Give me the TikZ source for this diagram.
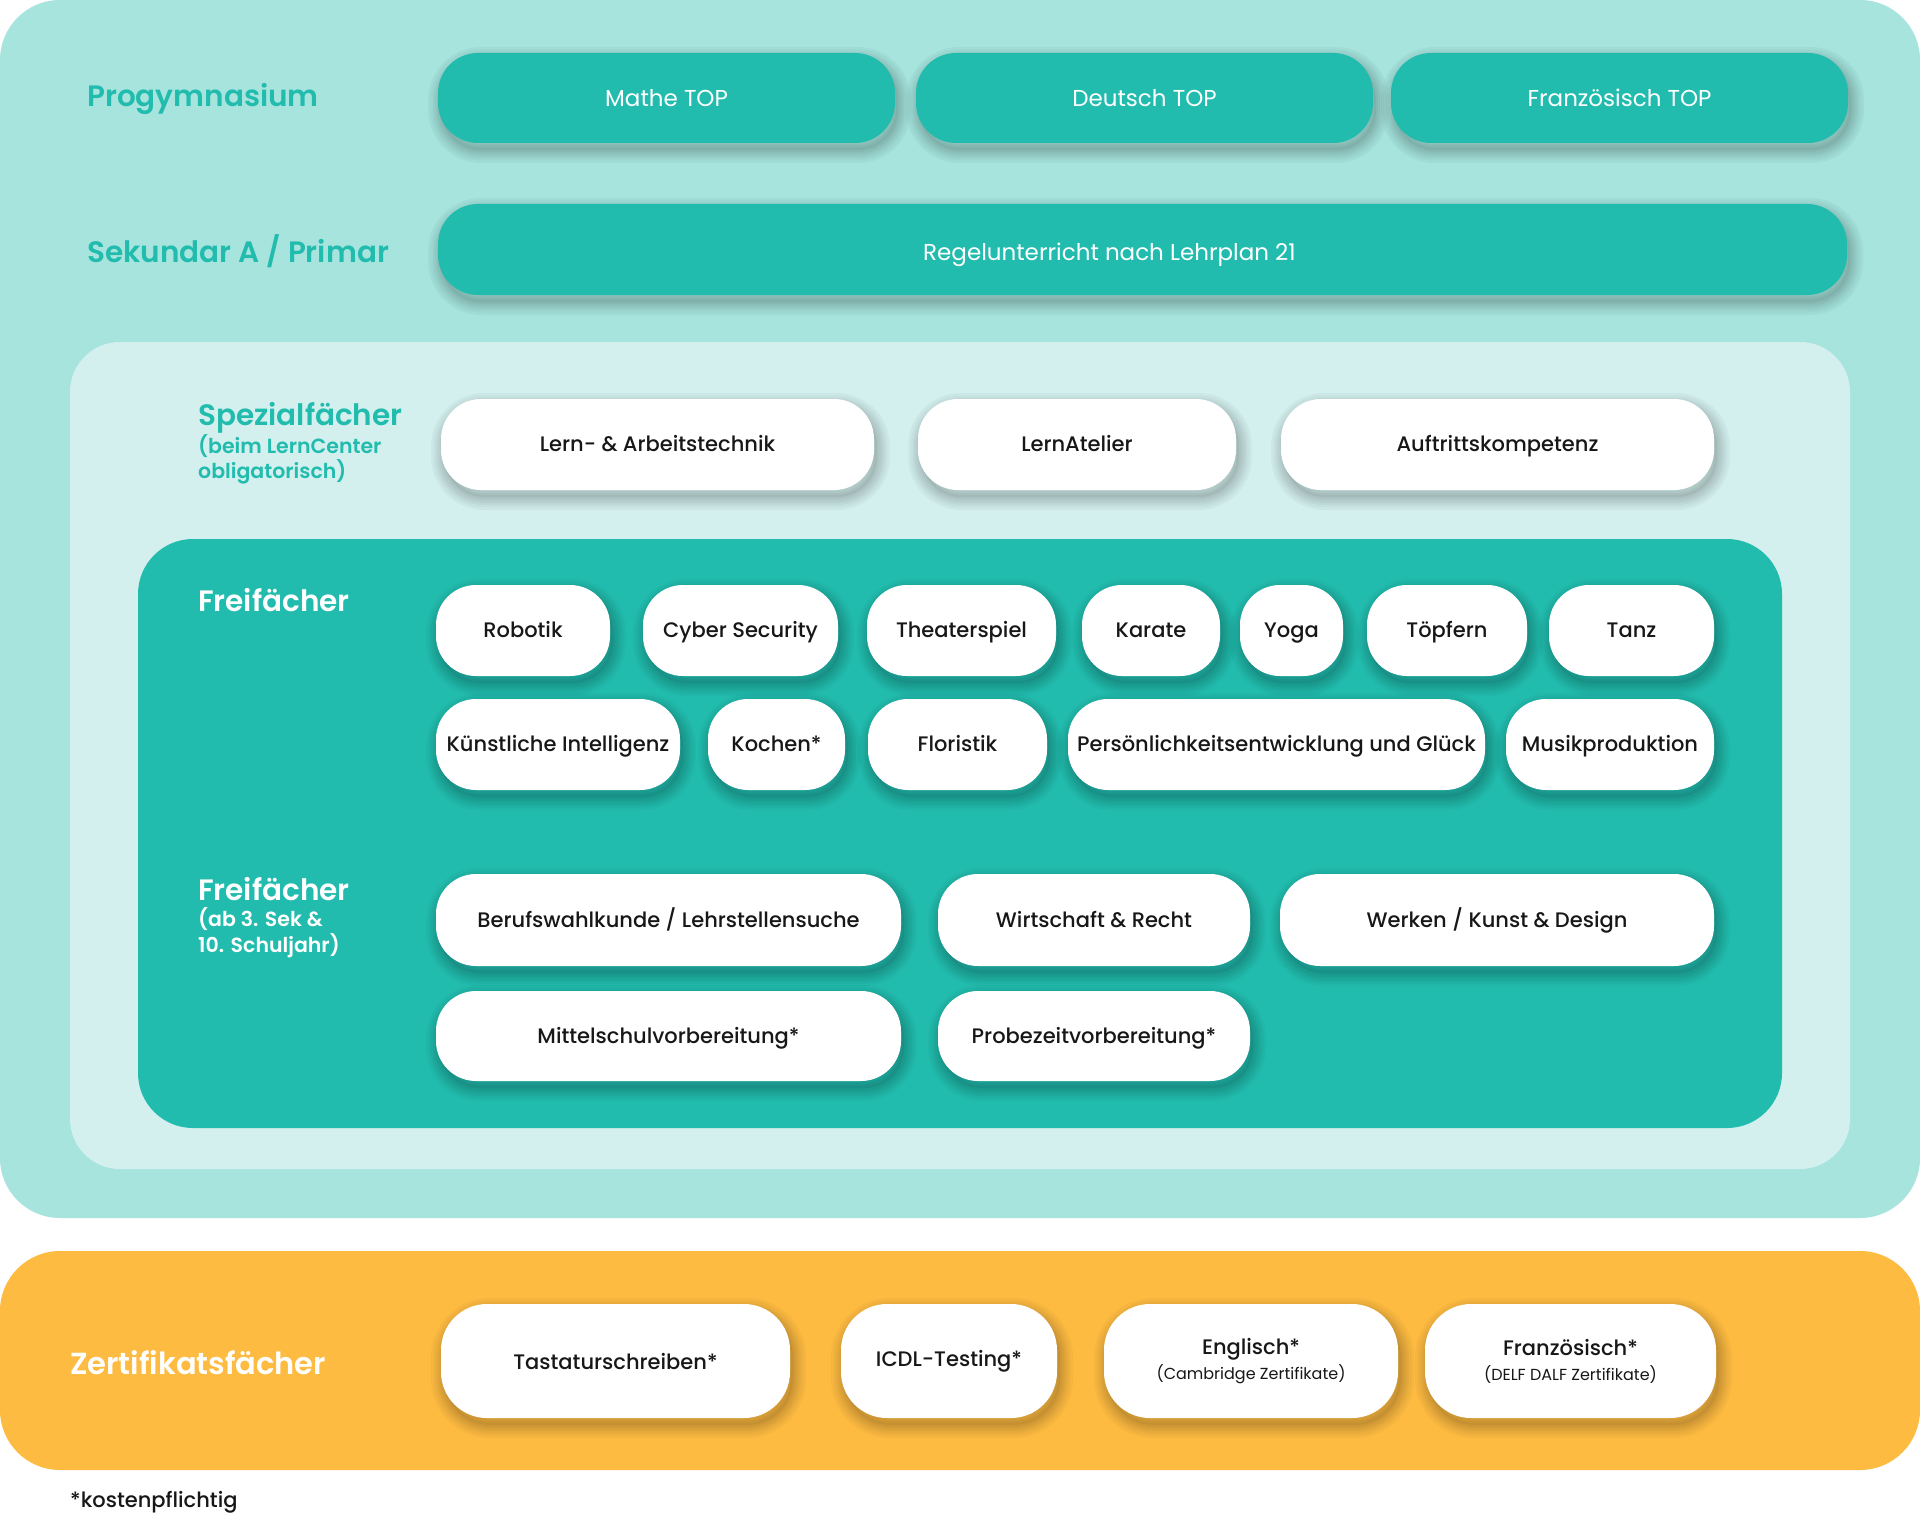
\documentclass[tikz,border=0pt]{standalone}
\usepackage{fontspec}
\setmainfont{Poppins}[UprightFont={* Medium}, BoldFont={* SemiBold}]
\newfontfamily\regfont{Poppins}
\definecolor{outerbg}{HTML}{A6E4DD}
\definecolor{innerbg}{HTML}{D3F0EE}
\definecolor{tealc}{HTML}{22BCAE}
\definecolor{orangec}{HTML}{FEBB42}
\definecolor{ink}{HTML}{171717}
\tikzset{
  shlayer/.style={preaction={draw=black, draw opacity=0.03, line width=#1, line join=round,
     transform canvas={shift={(3pt,-7pt)}}}},
  softshadow/.style={
    preaction={fill=black, fill opacity=0.05, transform canvas={shift={(3pt,-7pt)}}},
    shlayer=26pt, shlayer=21pt, shlayer=16pt, shlayer=12pt, shlayer=8pt, shlayer=4pt},
  pill/.style={rectangle, rounded corners=40pt, minimum height=91pt, inner sep=0pt,
    font=\fontsize{21}{25}\selectfont, text height=14.7pt, text depth=0pt, softshadow},
  tpill/.style={pill, fill=tealc, text=white, font=\regfont\fontsize{23}{27}\selectfont, text height=16.1pt},
  wpill/.style={pill, fill=white, text=ink},
  cpill/.style={wpill, rounded corners=46pt, minimum height=114pt, align=center, text height=, text depth=},
  lab/.style={anchor=base west, inner sep=0pt, font=\bfseries\fontsize{29.5}{34}\selectfont},
  sublab/.style={anchor=base west, inner sep=0pt, font=\bfseries\fontsize{20.5}{23}\selectfont},
}
\begin{document}
\begin{tikzpicture}[x=1pt,y=-1pt]
\useasboundingbox (0,0) rectangle (1920,1533);
\fill[white] (0,0) rectangle (1920,1533);
% containers
\fill[outerbg, rounded corners=60pt] (0,0) rectangle (1920,1218);
\fill[innerbg, rounded corners=50pt] (70,342) rectangle (1850,1169);
\fill[tealc, rounded corners=55pt] (138,539) rectangle (1782,1128);
\fill[orangec, rounded corners=60pt] (0,1251) rectangle (1920,1470);

% labels
\node[lab, text=tealc] (lprog) at (87,107) {Progymnasium};
\node[lab, text=tealc] (lsek) at (87,262) {Sekundar A / Primar};
\node[lab, text=tealc] (lspez) at (198,425) {Spezialfächer};
\node[sublab, text=tealc] (lspez2) at (198,453) {(beim LernCenter};
\node[sublab, text=tealc] (lspez3) at (198,478) {obligatorisch)};
\node[lab, text=white] (lfrei) at (198,611) {Freifächer};
\node[lab, text=white] (lfrei2) at (198,900) {Freifächer};
\node[sublab, text=white] (lfrei2b) at (198,926) {(ab 3. Sek \&};
\node[sublab, text=white] (lfrei2c) at (198,952) {10. Schuljahr)};
\node[lab, text=white, font=\bfseries\fontsize{30.5}{35}\selectfont] (lzert) at (70,1374) {Zertifikatsfächer};
\node[anchor=base west, inner sep=0pt, text=ink, font=\fontsize{21}{25}\selectfont] (fn) at (70,1507) {*kostenpflichtig};

% top rows
\node[tpill, minimum width=457pt, minimum height=90pt] (mathe) at (666.5,98) {Mathe TOP};
\node[tpill, minimum width=457pt, minimum height=90pt] (deutsch) at (1144.5,98) {Deutsch TOP};
\node[tpill, minimum width=457pt, minimum height=90pt] (franz) at (1619.5,98) {Französisch TOP};
\node[tpill, minimum width=1409pt, minimum height=91pt,
  label={[text=white, font=\regfont\fontsize{23}{27}\selectfont, text height=16.1pt, text depth=0pt, inner sep=0pt, xshift=-33pt, yshift=-3pt]center:Regelunterricht nach Lehrplan 21}] (regel) at (1142.5,249.5) {};

% Spezialfaecher
\node[wpill, minimum width=433pt] (lern) at (657.5,444.5) {Lern- \& Arbeitstechnik};
\node[wpill, minimum width=318pt] (atelier) at (1077,444.5) {LernAtelier};
\node[wpill, minimum width=433pt] (auftritt) at (1497.5,444.5) {Auftrittskompetenz};

% Freifaecher row 1
\node[wpill, minimum width=174pt] (robotik) at (523,630.5) {Robotik};
\node[wpill, minimum width=195pt] (cyber) at (740.5,630.5) {Cyber Security};
\node[wpill, minimum width=189pt] (theater) at (961.5,630.5) {Theaterspiel};
\node[wpill, minimum width=138pt] (karate) at (1151,630.5) {Karate};
\node[wpill, minimum width=103pt] (yoga) at (1291.5,630.5) {Yoga};
\node[wpill, minimum width=160pt] (toepfern) at (1447,630.5) {Töpfern};
\node[wpill, minimum width=165pt] (tanz) at (1631.5,630.5) {Tanz};
% row 2
\node[wpill, minimum width=244pt] (ki) at (558,744.5) {Künstliche Intelligenz};
\node[wpill, minimum width=137pt] (kochen) at (776.5,744.5) {Kochen*};
\node[wpill, minimum width=179pt] (floristik) at (957.5,744.5) {Floristik};
\node[wpill, minimum width=417pt] (persoen) at (1276.5,744.5) {Persönlichkeitsentwicklung und Glück};
\node[wpill, minimum width=208pt] (musik) at (1610,744.5) {Musikproduktion};
% row 3
\node[wpill, minimum width=465pt, minimum height=92pt] (beruf) at (668.5,920) {Berufswahlkunde / Lehrstellensuche};
\node[wpill, minimum width=312pt, minimum height=92pt] (wirtschaft) at (1094,920) {Wirtschaft \& Recht};
\node[wpill, minimum width=434pt, minimum height=92pt] (werken) at (1497,920) {Werken / Kunst \& Design};
% row 4
\node[wpill, minimum width=465pt, minimum height=90pt] (mittel) at (668.5,1036) {Mittelschulvorbereitung*};
\node[wpill, minimum width=312pt, minimum height=90pt] (probe) at (1094,1036) {Probezeitvorbereitung*};

% Zertifikate
\node[cpill, minimum width=349pt] (tast) at (615.5,1361) {Tastaturschreiben*};
\node[cpill, minimum width=216pt] (icdl) at (949,1361) {ICDL-Testing*};
\node[cpill, minimum width=294pt] (engl) at (1251,1361) {Englisch*\\[0pt]{\regfont\fontsize{16}{18}\selectfont (Cambridge Zertifikate)}};
\node[cpill, minimum width=291pt] (franzc) at (1570.5,1361) {Französisch*\\[0pt]{\regfont\fontsize{16}{18}\selectfont (DELF DALF Zertifikate)}};
\end{tikzpicture}
\end{document}
